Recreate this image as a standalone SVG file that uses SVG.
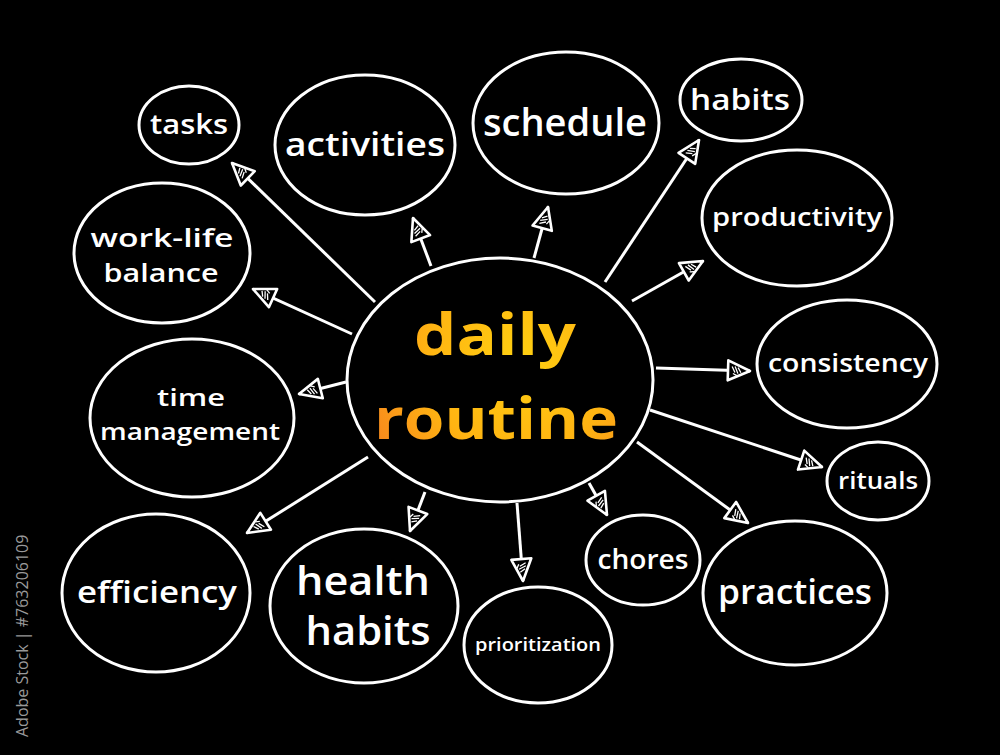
<svg xmlns="http://www.w3.org/2000/svg" width="1000" height="755" viewBox="0 0 1000 755">
<defs>
<style>
.node{fill:#000;stroke:#fff;stroke-width:3}
.t{fill:#fff;font-family:"Open Sans","Noto Sans",sans-serif;font-weight:600;text-anchor:middle}
.c line{stroke:#fff;stroke-width:3;marker-end:url(#ah)}
.wm{fill:#9a9a9a;font-family:"Open Sans",sans-serif;font-size:16px}
</style>
<marker id="ah" viewBox="0 0 26 26" refX="24" refY="13" markerWidth="26" markerHeight="26" markerUnits="userSpaceOnUse" orient="auto">
<path d="M2,3 L24,13 L2,23 Z" fill="#000" stroke="#fff" stroke-width="2.6" stroke-linejoin="round"/>
<path d="M6,9 L9,15 M9,9 L12,16 M12,10 L15,15 M7,16 L11,18" stroke="#fff" stroke-width="1.3" fill="none"/>
</marker>
<radialGradient id="og" cx="520" cy="360" r="170" gradientUnits="userSpaceOnUse">
<stop offset="0" stop-color="#ffd011"/>
<stop offset="0.55" stop-color="#ffb412"/>
<stop offset="1" stop-color="#f7861e"/>
</radialGradient>
</defs>
<rect width="1000" height="755" fill="#000"/>
<text class="wm" transform="translate(28,737) rotate(-90)">Adobe Stock | #763206109</text>
<g class="c" id="connectors">
<line x1="375" y1="302" x2="232" y2="163"/>
<line x1="352" y1="334" x2="253" y2="289"/>
<line x1="346" y1="382" x2="299" y2="394"/>
<line x1="368" y1="457" x2="247" y2="533"/>
<line x1="425" y1="492" x2="410" y2="531"/>
<line x1="517" y1="503" x2="523" y2="581"/>
<line x1="589" y1="483" x2="607" y2="515"/>
<line x1="637" y1="442" x2="748" y2="523"/>
<line x1="650" y1="410" x2="822" y2="467"/>
<line x1="656" y1="368" x2="750" y2="371"/>
<line x1="632" y1="301" x2="703" y2="261"/>
<line x1="605" y1="282" x2="699" y2="140"/>
<line x1="534" y1="258" x2="548" y2="207"/>
<line x1="431" y1="266" x2="413" y2="218"/>
</g>
<g id="center">
<ellipse class="node" cx="500" cy="380" rx="153" ry="122" stroke-width="5"/>
<text x="495" y="355" font-family="Open Sans, sans-serif" font-weight="700" font-size="58" fill="url(#og)" text-anchor="middle" textLength="162" lengthAdjust="spacingAndGlyphs">daily</text>
<text x="496" y="439" font-family="Open Sans, sans-serif" font-weight="700" font-size="58" fill="url(#og)" text-anchor="middle" textLength="244" lengthAdjust="spacingAndGlyphs">routine</text>
</g>
<g id="tasks"><ellipse class="node" cx="189" cy="125" rx="50" ry="39"/><text class="t" x="189" y="134" font-size="27" textLength="78" lengthAdjust="spacingAndGlyphs">tasks</text></g>
<g id="activities"><ellipse class="node" cx="365" cy="145" rx="90" ry="70"/><text class="t" x="365" y="156" font-size="32" textLength="160" lengthAdjust="spacingAndGlyphs">activities</text></g>
<g id="schedule"><ellipse class="node" cx="566" cy="123" rx="93" ry="71"/><text class="t" x="565" y="136" font-size="38" textLength="164" lengthAdjust="spacingAndGlyphs">schedule</text></g>
<g id="habits"><ellipse class="node" cx="741" cy="100" rx="61" ry="41"/><text class="t" x="740" y="110" font-size="28" textLength="100" lengthAdjust="spacingAndGlyphs">habits</text></g>
<g id="productivity"><ellipse class="node" cx="797" cy="218" rx="95" ry="68"/><text class="t" x="797" y="226" font-size="26" textLength="170" lengthAdjust="spacingAndGlyphs">productivity</text></g>
<g id="work-life"><ellipse class="node" cx="162" cy="253" rx="88" ry="70"/><text class="t" x="162" y="247" font-size="25" textLength="143" lengthAdjust="spacingAndGlyphs">work-life</text><text class="t" x="161" y="282" font-size="25" textLength="115" lengthAdjust="spacingAndGlyphs">balance</text></g>
<g id="consistency"><ellipse class="node" cx="847" cy="364" rx="90" ry="64"/><text class="t" x="848" y="372" font-size="26" textLength="160" lengthAdjust="spacingAndGlyphs">consistency</text></g>
<g id="time-management"><ellipse class="node" cx="192" cy="418" rx="102" ry="79"/><text class="t" x="191" y="406" font-size="24" textLength="68" lengthAdjust="spacingAndGlyphs">time</text><text class="t" x="190" y="440" font-size="24" textLength="180" lengthAdjust="spacingAndGlyphs">management</text></g>
<g id="rituals"><ellipse class="node" cx="878" cy="481" rx="51" ry="39"/><text class="t" x="878" y="489" font-size="23" textLength="80" lengthAdjust="spacingAndGlyphs">rituals</text></g>
<g id="efficiency"><ellipse class="node" cx="156" cy="593" rx="94" ry="79"/><text class="t" x="157" y="603" font-size="30" textLength="160" lengthAdjust="spacingAndGlyphs">efficiency</text></g>
<g id="health-habits"><ellipse class="node" cx="364" cy="606" rx="94" ry="77"/><text class="t" x="363" y="595" font-size="40" textLength="134" lengthAdjust="spacingAndGlyphs">health</text><text class="t" x="368" y="645" font-size="40" textLength="125" lengthAdjust="spacingAndGlyphs">habits</text></g>
<g id="prioritization"><ellipse class="node" cx="538" cy="645" rx="74" ry="58"/><text class="t" x="538" y="651" font-size="18" textLength="126" lengthAdjust="spacingAndGlyphs">prioritization</text></g>
<g id="chores"><ellipse class="node" cx="643" cy="560" rx="57" ry="45"/><text class="t" x="643" y="569" font-size="27" textLength="91" lengthAdjust="spacingAndGlyphs">chores</text></g>
<g id="practices"><ellipse class="node" cx="795" cy="593" rx="92" ry="72"/><text class="t" x="795" y="604" font-size="34" textLength="154" lengthAdjust="spacingAndGlyphs">practices</text></g>
</svg>
